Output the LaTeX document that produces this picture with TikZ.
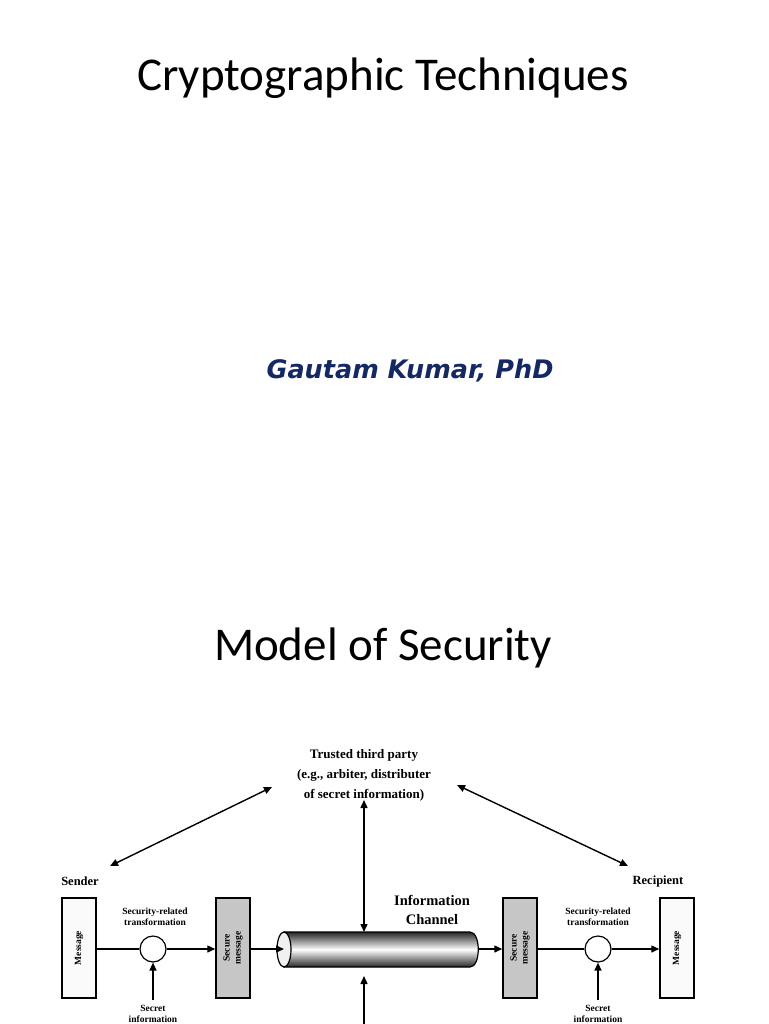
\documentclass[tikz,border=0pt]{standalone}
\usepackage{fontspec}
\setmainfont{Liberation Serif}
\newfontfamily\calfont{Carlito}
\newfontfamily\authfont{DejaVu Sans}
\usetikzlibrary{arrows.meta,shapes.geometric}
\definecolor{authblue}{RGB}{20,40,100}
\tikzset{
  box/.style={draw,line width=1.5pt,minimum width=34pt,minimum height=100pt,inner sep=0pt},
  lab/.style={font=\bfseries\fontsize{9.5}{11}\selectfont,align=center},
  arr/.style={-{Triangle[length=8pt,width=7pt]},line width=1.4pt},
  darr/.style={{Triangle[length=8pt,width=7pt]}-{Triangle[length=8pt,width=7pt]},line width=1.4pt},
}
\begin{document}
\begin{tikzpicture}[x=1pt,y=-1pt]
\useasboundingbox (0,0) rectangle (768,1024);
\node (t1) at (383,78) {\calfont\fontsize{47}{52}\selectfont Cryptographic Techniques};
\node (au) at (410,371) {\authfont\bfseries\itshape\color{authblue}\fontsize{25.5}{30}\selectfont Gautam Kumar, PhD};
\node (t2) at (383,648) {\calfont\fontsize{47}{52}\selectfont Model of Security};
\node[lab,font=\bfseries\fontsize{13}{20}\selectfont] (ttp) at (364,775) {Trusted third party\\(e.g., arbiter, distributer\\of secret information)};
\node[lab,font=\bfseries\fontsize{12.5}{14}\selectfont] (snd) at (80,881) {Sender};
\node[lab,font=\bfseries\fontsize{12.5}{14}\selectfont] (rcp) at (658,881) {Recipient};
\node[box,fill=gray!4] (m1) at (79,948) {};
\node[rotate=90,lab] at (m1) {Message};
\node[box,fill=gray!45] (s1) at (233,948) {};
\node[rotate=90,lab] at (s1) {Secure\\message};
\node[box,fill=gray!45] (s2) at (520,948) {};
\node[rotate=90,lab] at (s2) {Secure\\message};
\node[box,fill=gray!4] (m2) at (677,948) {};
\node[rotate=90,lab] at (m2) {Message};
\node[circle,draw,line width=1.2pt,minimum size=26pt,inner sep=0pt,fill=white] (c1) at (153,949) {};
\node[circle,draw,line width=1.2pt,minimum size=26pt,inner sep=0pt,fill=white] (c2) at (598,949) {};
\node[lab] (l1) at (155,917) {Security-related\\transformation};
\node[lab] (l2) at (598,917) {Security-related\\transformation};
\node[lab] (si1) at (153,1014) {Secret\\information};
\node[lab] (si2) at (598,1014) {Secret\\information};
\node[lab,font=\bfseries\fontsize{14.5}{19}\selectfont] (ic) at (432,910) {Information\\Channel};
% cylinder
\path[top color=black!85,bottom color=black!85,middle color=white,draw,line width=1.2pt]
  (284,932) -- (470,932) .. controls (481,932) and (481,967) .. (470,967) -- (284,967) -- cycle;
\draw[line width=1.2pt,fill=gray!12] (284,949.5) ellipse[x radius=7,y radius=17.5];
\coordinate (cl) at (284,949);
\coordinate (cr) at (478,949);
\coordinate (ct) at (364,932);
\coordinate (cb) at (364,967);
\draw[line width=1.4pt] (m1.east |- c1) -- (c1);
\draw[arr] (c1) -- (s1.west |- c1);
\draw[arr] (s1.east |- cl) -- (cl);
\draw[arr] (cr) -- (s2.west |- cr);
\draw[line width=1.4pt] (s2.east |- c2) -- (c2);
\draw[arr] (c2) -- (m2.west |- c2);
\draw[arr] (153,1000) -- (c1);
\draw[arr] (598,1000) -- (c2);
\draw[darr] (272,787) -- (110,866);
\draw[darr] (457,785) -- (628,866);
\draw[darr] (364,800) -- (ct);
\draw[arr] (364,1024) -- (364,976);
\end{tikzpicture}
\end{document}
